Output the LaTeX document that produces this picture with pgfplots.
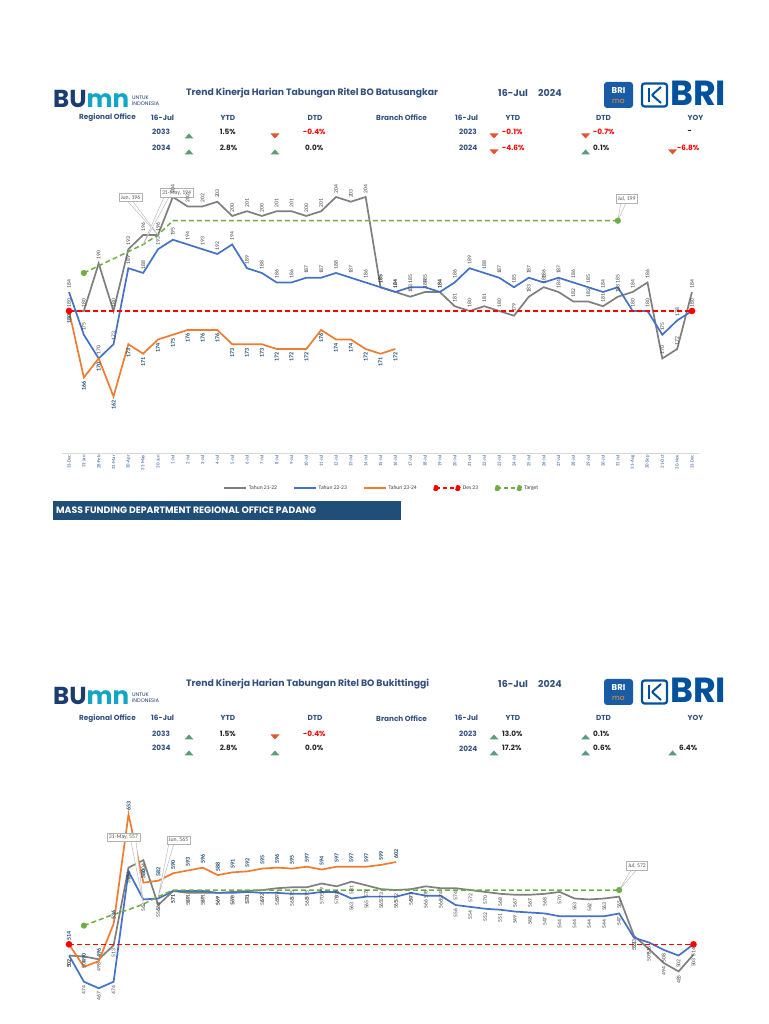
\documentclass[border=0pt]{standalone}
\usepackage{fontspec}
\setmainfont{Carlito}
\newfontfamily\pop{Poppins}
\usepackage{pgfplots}
\pgfplotsset{compat=1.18}

\definecolor{hdrnavy}{HTML}{33507E}
\definecolor{valdark}{HTML}{262626}
\definecolor{trigreen}{HTML}{5A9C7A}
\definecolor{trired}{HTML}{E4572E}
\definecolor{bumnnavy}{HTML}{1B3D6E}
\definecolor{bumnteal}{HTML}{12A5C6}
\definecolor{brimoblue}{HTML}{1A5BA6}
\definecolor{brimoorange}{HTML}{F39A2B}
\definecolor{brinavy}{HTML}{00529C}
\definecolor{banner}{HTML}{1F4E79}
\definecolor{sergray}{HTML}{7F7F7F}
\definecolor{serblue}{HTML}{4472C4}
\definecolor{serorange}{HTML}{ED7D31}
\definecolor{sergreen}{HTML}{70AD47}
\definecolor{serred}{HTML}{FF0000}
\definecolor{lbldark}{HTML}{404040}
\definecolor{lblnavy}{HTML}{1F4E79}
\definecolor{ticknavy}{HTML}{2F5597}
\definecolor{axisgray}{HTML}{D9D9D9}

\newcommand\hdrfont{\pop\bfseries\fontsize{7.3}{8}\selectfont}
\newcommand\hd[3][west]{\node[anchor=#1, inner sep=0pt, font=\hdrfont, text=hdrnavy] at (#2) {#3};}
\newcommand\vl[2]{\node[anchor=west, inner sep=0pt, font=\hdrfont, text=valdark] at (#1) {#2};}
\newcommand\vr[2]{\node[anchor=west, inner sep=0pt, font=\hdrfont, text=serred] at (#1) {#2};}
\newcommand\up[2]{\fill[trigreen] (#1-4.5,#2+2.5) -- (#1+4.5,#2+2.5) -- (#1,#2-2.5) -- cycle;}
\newcommand\dn[2]{\fill[trired] (#1-4.5,#2-2.5) -- (#1+4.5,#2-2.5) -- (#1,#2+2.5) -- cycle;}

% logos drawn at a given vertical position (top of the logo row)
\newcommand\logos[1]{%
  \node[anchor=south west, inner sep=0pt] at (53,#1+26) {\resizebox{76pt}{!}{\pop\bfseries\color{bumnnavy}BU\color{bumnteal}mn}};
  \node[anchor=west, inner sep=0pt, align=left, font=\pop\fontsize{5.2}{5.6}\selectfont, text=bumnnavy] at (132,#1+19) {UNTUK\\INDONESIA};
  \fill[brimoblue, rounded corners=3pt] (604,#1) rectangle (633,#1+26);
  \node[text=white, inner sep=0pt, font=\pop\bfseries\fontsize{8.5}{8.5}\selectfont] at (618.5,#1+9) {BRI};
  \node[text=brimoorange, inner sep=0pt, font=\pop\fontsize{7.5}{7.5}\selectfont] at (618.5,#1+19) {mo};
  \draw[brinavy, line width=2.2pt, rounded corners=2.5pt] (642,#1+1.5) rectangle (667,#1+24.5);
  \draw[brinavy, line width=2pt] (649,#1+6) -- (649,#1+20);
  \draw[brinavy, line width=2pt] (652,#1+13) -- (661,#1+5);
  \draw[brinavy, line width=2pt] (652,#1+13) -- (661,#1+21);
  \node[anchor=south west, inner sep=0pt] at (670,#1+24) {\resizebox{56pt}{!}{\pop\bfseries\color{brinavy}BRI}};
}

\tikzset{
  callout/.style={draw=black!30, fill=white, font=\fontsize{5.8}{6}\selectfont, text=black!65, inner sep=1.8pt},
  leader/.style={draw=black!30, fill=white, line width=0.4pt},
}

\pgfplotsset{
  sgray/.style={color=sergray, line width=1.7pt, mark=none},
  sblue/.style={color=serblue, line width=1.7pt, mark=none},
  sorange/.style={color=serorange, line width=1.7pt, mark=none},
  sred/.style={color=serred, line width=1.5pt, dash pattern=on 5pt off 3pt, mark=*, mark size=2.5pt,
    mark options={solid, fill=serred},
    legend image code/.code={\draw[serred, line width=1.5pt, dash pattern=on 4pt off 3pt] (0pt,0pt) -- (22pt,0pt);
      \fill[serred] (0pt,0pt) circle (2.3pt); \fill[serred] (22pt,0pt) circle (2.3pt);}},
  sgreen/.style={color=sergreen, line width=1.5pt, dash pattern=on 5pt off 3pt, mark=*, mark size=2.3pt,
    mark options={solid, fill=sergreen}, mark indices={1,37},
    legend image code/.code={\draw[sergreen, line width=1.5pt, dash pattern=on 4pt off 3pt] (0pt,0pt) -- (22pt,0pt);
      \fill[sergreen] (0pt,0pt) circle (2.3pt); \fill[sergreen] (22pt,0pt) circle (2.3pt);}},
  lblabove/.style={nodes near coords={\pgfmathprintnumber[fixed,precision=0]{\pgfplotspointmeta}},
    every node near coord/.append style={rotate=90, anchor=west, inner xsep=3pt, inner ysep=0pt,
      font=\fontsize{5.6}{5.6}\selectfont, text=lbldark}},
  lblbelow/.style={nodes near coords={\pgfmathprintnumber[fixed,precision=0]{\pgfplotspointmeta}},
    every node near coord/.append style={rotate=90, anchor=east, inner xsep=3pt, inner ysep=0pt,
      font=\fontsize{5.6}{5.6}\selectfont, text=lbldark}},
  navylbl/.style={every node near coord/.append style={text=lblnavy, font=\bfseries\fontsize{6}{6}\selectfont}},
  dashchart/.style={
    scale only axis, clip=false,
    xmin=-0.5, xmax=42.5,
    axis y line=none, ytick=\empty,
    axis x line=bottom, x axis line style={-, draw=axisgray, line width=0.8pt},
    xtick={0,...,42}, major tick length=0pt,
    x tick label style={rotate=90, anchor=east, font=\fontsize{4.8}{5}\selectfont, text=ticknavy, inner sep=1.5pt},
    /pgf/number format/assume math mode=true,
    legend image code/.code={\draw[#1, mark=none] (0pt,0pt) -- (22pt,0pt);},
    legend columns=5,
    legend style={draw=none, fill=none, font=\fontsize{5.6}{6}\selectfont, text=lbldark,
      /tikz/every even column/.append style={column sep=14pt}},
  },
}

\begin{document}
\begin{tikzpicture}
\useasboundingbox (0pt,0pt) rectangle (768pt,1024pt);
\clip (0pt,0pt) rectangle (768pt,1024pt);
\fill[white] (0pt,0pt) rectangle (768pt,1024pt);

\begin{scope}[x=1pt, y=-1pt, yshift=1024pt]
% ---------- Batusangkar header ----------
\logos{82}
\node[anchor=west, inner sep=0pt] at (186,93) {\resizebox{252pt}{!}{\pop\bfseries\color{hdrnavy}Trend Kinerja Harian Tabungan Ritel BO Batusangkar}};
\node[anchor=west, inner sep=0pt, font=\pop\bfseries\fontsize{9.5}{10}\selectfont, text=hdrnavy] at (498,93) {16-Jul};
\node[anchor=west, inner sep=0pt, font=\pop\bfseries\fontsize{9.5}{10}\selectfont, text=hdrnavy] at (538,93) {2024};
\hd{79,118}{Regional Office}
\hd{151,118}{16-Jul}
\hd[center]{228,118}{YTD}
\hd[center]{315,118}{DTD}
\hd{376,118}{Branch Office}
\hd{455,118}{16-Jul}
\hd[center]{513,118}{YTD}
\hd[center]{603.5,118}{DTD}
\hd[center]{695.5,118}{YOY}
\hd{152,131.7}{2033} \up{189}{136} \vl{219.6,131.7}{1.5\%} \dn{275}{136} \vr{303,131.7}{-0.4\%}
\hd{459,131.7}{2023} \dn{494}{136} \vr{502,131.7}{-0.1\%} \dn{585.6}{136} \vr{593,131.7}{-0.7\%}
\vl{687.5,131.7}{-}
\hd{152,147.7}{2034} \up{189}{152} \vl{219.6,147.7}{2.8\%} \up{275}{152} \vl{305,147.7}{0.0\%}
\hd{459,147.7}{2024} \dn{494}{152} \vr{502,147.7}{-4.6\%} \up{585.6}{152} \vl{593,147.7}{0.1\%}
\dn{672.6}{152} \vr{677,147.7}{-6.8\%}

% ---------- banner ----------
\fill[banner] (53,501) rectangle (401,520);
\node[anchor=west, inner sep=0pt] at (56,510.5) {\resizebox{260pt}{!}{\pop\bfseries\color{white}MASS FUNDING DEPARTMENT REGIONAL OFFICE PADANG}};

% ---------- Bukittinggi header ----------
\logos{679}
\node[anchor=west, inner sep=0pt] at (186,684) {\resizebox{243pt}{!}{\pop\bfseries\color{hdrnavy}Trend Kinerja Harian Tabungan Ritel BO Bukittinggi}};
\node[anchor=west, inner sep=0pt, font=\pop\bfseries\fontsize{9.5}{10}\selectfont, text=hdrnavy] at (498,684) {16-Jul};
\node[anchor=west, inner sep=0pt, font=\pop\bfseries\fontsize{9.5}{10}\selectfont, text=hdrnavy] at (538,684) {2024};
\hd{79,718.3}{Regional Office}
\hd{151,718.3}{16-Jul}
\hd[center]{228,718.3}{YTD}
\hd[center]{315,718.3}{DTD}
\hd{376,718.3}{Branch Office}
\hd{455,718.3}{16-Jul}
\hd[center]{513,718.3}{YTD}
\hd[center]{603.5,718.3}{DTD}
\hd[center]{695.5,718.3}{YOY}
\hd{152,734.3}{2033} \up{189}{737} \vl{219.6,734.3}{1.5\%} \dn{275}{737} \vr{303,734.3}{-0.4\%}
\hd{459,734.3}{2023} \up{494}{737} \vl{502,734.3}{13.0\%} \up{585.6}{737} \vl{593,734.3}{0.1\%}
\hd{152,748.3}{2034} \up{189}{753} \vl{219.6,748.3}{2.8\%} \up{275}{753} \vl{305,748.3}{0.0\%}
\hd{459,748.3}{2024} \up{494}{753} \vl{502,748.3}{17.2\%} \up{585.6}{753} \vl{593,748.3}{0.6\%}
\up{672.6}{753} \vl{679,748.3}{6.4\%}
\end{scope}

% ================= Batusangkar chart =================
\begin{axis}[dashchart,
  at={(61.6pt,570.5pt)}, anchor=south west,
  width=637.8pt, height=283.6pt,
  ymin=150, ymax=209.7,
  xticklabels={31-Dec,31-Jan,28-Feb,31-Mar,30-Apr,31-May,30-Jun,1-Jul,2-Jul,3-Jul,4-Jul,5-Jul,6-Jul,7-Jul,8-Jul,9-Jul,10-Jul,11-Jul,12-Jul,13-Jul,14-Jul,15-Jul,16-Jul,17-Jul,18-Jul,19-Jul,20-Jul,21-Jul,22-Jul,23-Jul,24-Jul,25-Jul,26-Jul,27-Jul,28-Jul,29-Jul,30-Jul,31-Jul,31-Aug,30-Sep,31-Oct,30-Nov,31-Dec},
  legend style={at={(0.502,-0.122)}, anchor=center},
]
\addplot[sgray, lblabove] coordinates {(0,180)(1,180)(2,190)(3,180)(4,193)(5,196)(6,196)(7,204)(8,202)(9,202)(10,203)(11,200)(12,201)(13,200)(14,201)(15,201)(16,200)(17,201)(18,204)(19,203)(20,204)(21,185)(22,184)(23,183)(24,184)(25,184)(26,181)(27,180)(28,181)(29,180)(30,179)(31,183)(32,185)(33,184)(34,182)(35,182)(36,181)(37,183)(38,184)(39,186)(40,170)(41,172)(42,184)};
\addlegendentry{Tahun 21-22}
\addplot[sblue, lblabove] coordinates {(0,184)(1,175)(2,170)(3,173)(4,189)(5,188)(6,193)(7,195)(8,194)(9,193)(10,192)(11,194)(12,189)(13,188)(14,186)(15,186)(16,187)(17,187)(18,188)(19,187)(20,186)(21,185)(22,184)(23,185)(24,185)(25,184)(26,186)(27,189)(28,188)(29,187)(30,185)(31,187)(32,186)(33,187)(34,186)(35,185)(36,184)(37,185)(38,180)(39,180)(40,175)(41,178)(42,180)};
\addlegendentry{Tahun 22-23}
\addplot[sorange, lblbelow, navylbl] coordinates {(0,180)(1,166)(2,170)(3,162)(4,173)(5,171)(6,174)(7,175)(8,176)(9,176)(10,176)(11,173)(12,173)(13,173)(14,172)(15,172)(16,172)(17,176)(18,174)(19,174)(20,172)(21,171)(22,172)};
\addlegendentry{Tahun 23-24}
\addplot[sred] coordinates {(0,180)(42,180)};
\addlegendentry{Des 23}
\addplot[sgreen] coordinates {(1,188)(2,189.5)(3,191)(4,192.5)(5,194)(6,196)(7,199)(8,199)(9,199)(10,199)(11,199)(12,199)(13,199)(14,199)(15,199)(16,199)(17,199)(18,199)(19,199)(20,199)(21,199)(22,199)(23,199)(24,199)(25,199)(26,199)(27,199)(28,199)(29,199)(30,199)(31,199)(32,199)(33,199)(34,199)(35,199)(36,199)(37,199)};
\addlegendentry{Target}
% data callouts on the target series
\node[callout] (tj) at (axis cs:4.15,203.9) {Jun,\ 196};
\draw[leader] ([xshift=-2.5pt]tj.south) -- (axis cs:6,196) -- ([xshift=2.5pt]tj.south);
\node[callout] (tm) at (axis cs:7.25,204.9) {31-May,\ 194};
\draw[leader] ([xshift=4pt]tm.south west) -- (axis cs:5,194) -- ([xshift=9pt]tm.south west);
\node[callout] (tl) at (axis cs:37.6,203.6) {Jul,\ 199};
\draw[leader] ([xshift=5pt]tl.south west) -- (axis cs:37,199) -- ([xshift=10pt]tl.south west);
\node[callout] at (tj) {Jun,\ 196};
\node[callout] at (tm) {31-May,\ 194};
\node[callout] at (tl) {Jul,\ 199};
\end{axis}

% ================= Bukittinggi chart =================
\begin{axis}[dashchart,
  at={(61.6pt,-26.9pt)}, anchor=south west,
  width=639.3pt, height=280.5pt,
  ymin=400, ymax=700,
  xticklabels={},
]
\addplot[sgray, lblbelow] coordinates {(0,502)(1,501)(2,498)(3,513)(4,596)(5,604)(6,556)(7,571)(8,569)(9,569)(10,569)(11,570)(12,571)(13,572)(14,574)(15,575)(16,575)(17,579)(18,576)(19,581)(20,577)(21,573)(22,572)(23,573)(24,576)(25,574)(26,574)(27,572)(28,570)(29,568)(30,567)(31,567)(32,568)(33,570)(34,563)(35,562)(36,563)(37,565)(38,523)(39,509)(40,494)(41,485)(42,503)};
\addplot[sblue, lblbelow] coordinates {(0,502)(1,474)(2,467)(3,474)(4,592)(5,562)(6,563)(7,571)(8,571)(9,571)(10,569)(11,569)(12,570)(13,569)(14,569)(15,568)(16,568)(17,570)(18,570)(19,563)(20,565)(21,565)(22,565)(23,569)(24,566)(25,566)(26,556)(27,554)(28,552)(29,551)(30,549)(31,548)(32,547)(33,544)(34,544)(35,544)(36,544)(37,547)(38,521)(39,516)(40,508)(41,502)(42,514)};
\addplot[sorange, lblabove, navylbl] coordinates {(0,514)(1,490)(2,496)(3,536)(4,653)(5,580)(6,582)(7,590)(8,593)(9,596)(10,588)(11,591)(12,592)(13,595)(14,596)(15,595)(16,597)(17,594)(18,597)(19,597)(20,597)(21,599)(22,602)};
\addplot[sred] coordinates {(0,514)(42,514)};
\addplot[sgreen] coordinates {(1,534)(2,540)(3,546)(4,551)(5,557)(6,565)(7,572)(8,572)(9,572)(10,572)(11,572)(12,572)(13,572)(14,572)(15,572)(16,572)(17,572)(18,572)(19,572)(20,572)(21,572)(22,572)(23,572)(24,572)(25,572)(26,572)(27,572)(28,572)(29,572)(30,572)(31,572)(32,572)(33,572)(34,572)(35,572)(36,572)(37,572)};
\node[callout] (bm) at (axis cs:3.66,628.8) {31-May,\ 557};
\draw[leader] ([xshift=-9pt]bm.south east) -- (axis cs:5,557) -- ([xshift=-4pt]bm.south east);
\node[callout] (bj) at (axis cs:7.36,625.5) {Jun,\ 565};
\draw[leader] ([xshift=2pt]bj.south west) -- (axis cs:6,565) -- ([xshift=7pt]bj.south west);
\node[callout] (bl) at (axis cs:38.2,597.9) {Jul,\ 572};
\draw[leader] ([xshift=5pt]bl.south west) -- (axis cs:37,572) -- ([xshift=10pt]bl.south west);
\node[callout] at (bm) {31-May,\ 557};
\node[callout] at (bj) {Jun,\ 565};
\node[callout] at (bl) {Jul,\ 572};
\end{axis}
\end{tikzpicture}
\end{document}
